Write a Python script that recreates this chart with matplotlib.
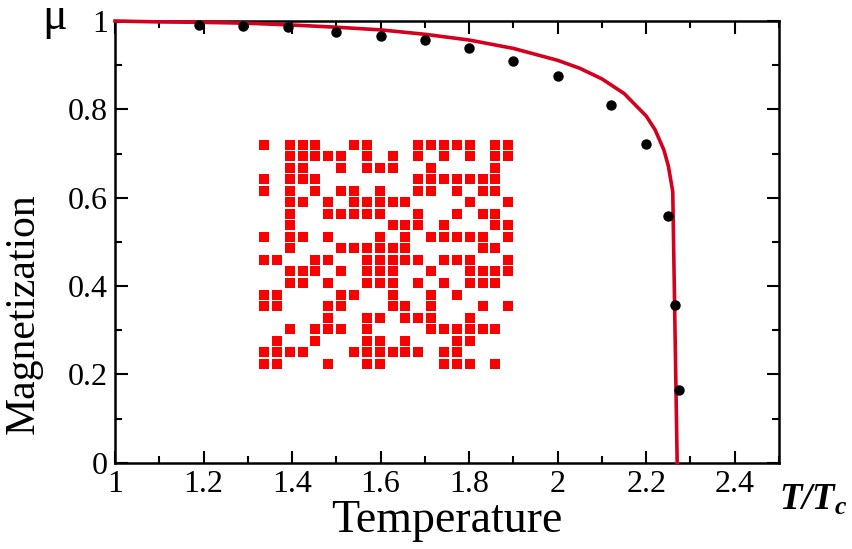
import matplotlib
matplotlib.use('Agg')
import matplotlib.pyplot as plt
from matplotlib.ticker import MultipleLocator, FuncFormatter

plt.rcParams['font.family'] = ['Liberation Serif', 'DejaVu Serif']
plt.rcParams['mathtext.fontset'] = 'custom'
plt.rcParams['mathtext.rm'] = 'Liberation Serif'
plt.rcParams['mathtext.it'] = 'Liberation Serif:italic'
plt.rcParams['mathtext.bf'] = 'Liberation Serif:bold'
plt.rcParams['mathtext.bfit'] = 'Liberation Serif:italic:bold'

# Theoretical magnetization curve
T_curve = [1.0, 1.1, 1.2, 1.3, 1.4, 1.5, 1.6, 1.7, 1.8, 1.9, 2.0, 2.05,
           2.1, 2.15, 2.2, 2.22, 2.24, 2.25, 2.26, 2.27]
M_curve = [1.0, 0.998, 0.997, 0.995, 0.991, 0.986, 0.980, 0.970, 0.957, 0.938,
           0.911, 0.893, 0.869, 0.836, 0.785, 0.754, 0.708, 0.672, 0.614, 0.0]

# Simulation points
T_sim = [1.19, 1.29, 1.39, 1.50, 1.60, 1.70, 1.80, 1.90, 2.00, 2.12, 2.20,
         2.25, 2.265, 2.275]
M_sim = [0.991, 0.988, 0.986, 0.976, 0.966, 0.956, 0.938, 0.909, 0.875, 0.811,
         0.721, 0.559, 0.357, 0.165]

# Spin configuration (20 x 20), occupied column indices per row (top to bottom)
spin_rows = [
    [0, 2, 3, 4, 7, 8, 12, 13, 14, 15, 16, 18, 19],
    [2, 3, 4, 5, 6, 8, 10, 12, 14, 16, 18, 19],
    [2, 3, 6, 8, 9, 10, 13, 18],
    [0, 2, 3, 4, 12, 13, 14, 15, 16, 17, 18],
    [0, 2, 4, 6, 7, 9, 12, 13, 15, 17, 18],
    [2, 3, 5, 7, 8, 9, 10, 11, 16, 19],
    [2, 5, 6, 7, 8, 9, 12, 15, 17, 18],
    [2, 10, 11, 12, 14, 18, 19],
    [0, 2, 3, 5, 9, 11, 13, 14, 15, 16, 17, 19],
    [2, 6, 7, 8, 9, 10, 11, 17, 18],
    [0, 1, 4, 5, 8, 9, 10, 11, 12, 14, 15, 16, 19],
    [2, 3, 4, 6, 8, 9, 10, 13, 16, 17, 18, 19],
    [2, 3, 5, 8, 9, 10, 12, 14, 16, 17, 18],
    [0, 1, 6, 7, 10, 13, 15],
    [0, 1, 5, 6, 10, 11, 13, 17, 19],
    [5, 8, 9, 11, 12, 13, 16],
    [2, 4, 5, 6, 8, 13, 14, 15, 16, 17, 18],
    [1, 4, 8, 9, 11, 15, 16],
    [0, 1, 2, 3, 7, 8, 9, 10, 11, 12, 14, 15],
    [0, 1, 5, 8, 9, 14, 15, 16, 18],
]

x_ticks = [1, 1.2, 1.4, 1.6, 1.8, 2, 2.2, 2.4]
y_ticks = [0, 0.2, 0.4, 0.6, 0.8, 1]

fig = plt.figure(figsize=(8.52, 5.49), dpi=100)
ax = fig.add_axes([0.135, 0.1572, 0.7793, 0.8045])

ax.plot(T_curve, M_curve, color='#d4001e', lw=2.6, solid_joinstyle='round',
        zorder=3, clip_on=False)
ax.plot(T_sim, M_sim, 'o', color='black', ms=6.5, zorder=4, clip_on=False)

ax.set_xlim(1, 2.5)
ax.set_ylim(0, 1)
ax.set_xticks(x_ticks)
ax.set_yticks(y_ticks)
ax.xaxis.set_minor_locator(MultipleLocator(0.1))
ax.yaxis.set_minor_locator(MultipleLocator(0.1))
fmt = FuncFormatter(lambda v, p: '%g' % round(v, 2))
ax.xaxis.set_major_formatter(fmt)
ax.yaxis.set_major_formatter(fmt)
ax.tick_params(which='both', direction='in', top=True, right=True, width=1.5,
               labelsize=23, colors='black')
ax.tick_params(which='major', length=9, pad=5)
ax.tick_params(which='minor', length=4.7)
for s in ax.spines.values():
    s.set_linewidth(1.8)

ax.set_xlabel('Temperature', fontsize=33)
ax.xaxis.set_label_coords(0.5, -0.158)
ax.xaxis.label.set_va('baseline')
ax.set_ylabel('Magnetization', fontsize=30)
ax.yaxis.set_label_coords(-0.109, 0.337)

fig.text(779 / 852, 1 - 510 / 549, '$\\mathbfit{T/T_c}$', fontsize=26.5,
         ha='left', va='baseline')
fig.text(54.5 / 852, 1 - 29 / 549, '$\\mathrm{\u03bc}$', fontsize=33,
         ha='center', va='baseline')

# Spin lattice inset
ins = fig.add_axes([0.3023, 0.3270, 0.3018, 0.4200])
xs, ys = [], []
for r, cols in enumerate(spin_rows):
    for c in cols:
        xs.append(c)
        ys.append(r)
ins.plot(xs, ys, 's', color='#fa0000', ms=7.1, mew=0, linestyle='none')
ins.set_xlim(-0.5, 19.5)
ins.set_ylim(19.5, -0.5)
ins.axis('off')

fig.savefig('out.png', dpi=100)
